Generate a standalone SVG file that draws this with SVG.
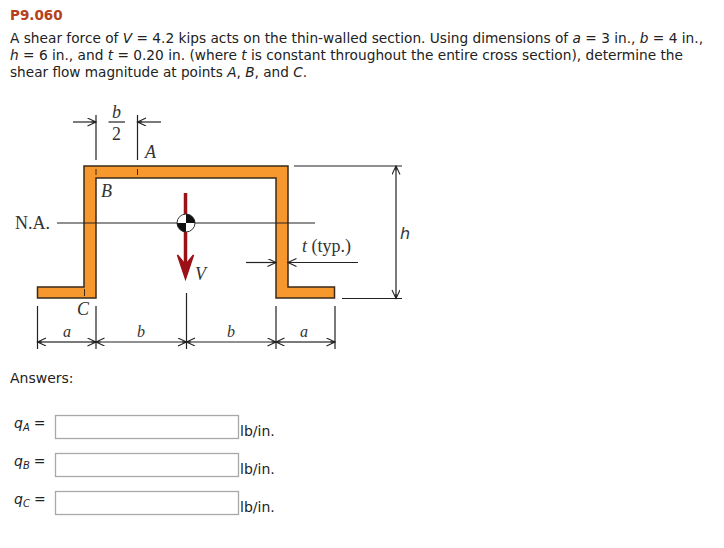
<svg xmlns="http://www.w3.org/2000/svg" width="724" height="548" viewBox="0 0 724 548">
<style>
.t{font-family:"DejaVu Sans",Verdana,sans-serif;font-size:14px;fill:#222}
.i{font-style:italic}
.s{font-family:"Liberation Serif","Times New Roman",serif;font-size:18px;fill:#333}
.l{stroke:#222;stroke-width:1.2;fill:none}
.d{stroke:#222;stroke-width:1.2;fill:none;marker-end:url(#a)}
.b{fill:#fff;stroke:#a8a8a8;stroke-width:1.3}
</style>
<defs><marker id="a" markerWidth="12" markerHeight="10" refX="9.5" refY="4" orient="auto" markerUnits="userSpaceOnUse"><path d="M1 0L9.5 4L1 8M5 4H9.5" fill="none" stroke="#222" stroke-width="1.1"/></marker></defs>
<rect width="724" height="548" fill="#fff"/>
<g id="statement">
<text x="10" y="20" class="t" style="font-weight:bold;fill:#b5401c;font-size:13.5px">P9.060</text>
<text x="10" y="43" class="t" textLength="693" lengthAdjust="spacingAndGlyphs">A shear force of <tspan class="i">V</tspan> = 4.2 kips acts on the thin-walled section. Using dimensions of <tspan class="i">a</tspan> = 3 in., <tspan class="i">b</tspan> = 4 in.,</text>
<text x="10" y="60" class="t" textLength="673" lengthAdjust="spacingAndGlyphs"><tspan class="i">h</tspan> = 6 in., and <tspan class="i">t</tspan> = 0.20 in. (where <tspan class="i">t</tspan> is constant throughout the entire cross section), determine the</text>
<text x="10" y="77" class="t" textLength="297" lengthAdjust="spacingAndGlyphs">shear flow magnitude at points <tspan class="i">A</tspan>, <tspan class="i">B</tspan>, and <tspan class="i">C</tspan>.</text>
</g>
<g id="section">
<path d="M84 166H288V287H334.500V298H276V178H96V298H37.500V287H84Z" fill="#f7982f" stroke="#3a2a1a" stroke-width="1.500"/>
<path d="M96 169V175M137.500 169V175M84.500 289V296" stroke="#3a2a1a" stroke-width="1" fill="none"/>
</g>
<g id="connectors">
<path class="l" d="M57 223H315M96 115V160M137.500 115V160M294 166H402M342 298.500H402M37.500 306V349M96 306V349M186.500 293V349M276 306V349M335 306V349"/>
<path class="d" d="M73 122H96"/>
<path class="d" d="M161 122H137.500"/>
<path class="d" d="M396 232V166"/>
<path class="d" d="M396 232V298.500"/>
<path class="d" d="M246 262.500H276"/>
<path class="d" d="M358 262.500H288"/>
<path class="d" d="M66 342H37.500"/>
<path class="d" d="M66 342H96"/>
<path class="d" d="M140 342H96"/>
<path class="d" d="M140 342H186.500"/>
<path class="d" d="M232 342H186.500"/>
<path class="d" d="M232 342H276"/>
<path class="d" d="M305 342H276"/>
<path class="d" d="M305 342H335"/>
<path d="M108.500 122H125" class="l"/>
</g>
<g id="load">
<path d="M185.500 193V268" stroke="#9c1018" stroke-width="3.500" fill="none"/>
<path d="M177.500 255L185.500 279L193.500 255L187 263H184Z" fill="#9c1018" stroke="#9c1018" stroke-width="1.500"/>
<circle cx="186" cy="223" r="9" fill="#fff" stroke="#333" stroke-width="1"/>
<path d="M186 223V214A9 9 0 0 1 195 223ZM186 223V232A9 9 0 0 1 177 223Z" fill="#111"/>
</g>
<g id="labels">
<text x="116.500" y="118" class="s" text-anchor="middle" font-style="italic">b</text>
<text x="116.500" y="140" class="s" text-anchor="middle">2</text>
<text x="145" y="158" class="s" font-style="italic">A</text>
<text x="101" y="197" class="s" font-style="italic">B</text>
<text x="15" y="229" class="s">N.A.</text>
<text x="302" y="252" class="s"><tspan font-style="italic">t</tspan> (typ.)</text>
<text x="400" y="239" style="font-family:'DejaVu Sans',sans-serif;font-size:16px;font-style:italic;fill:#333">h</text>
<text x="195" y="280" class="s" font-style="italic">V</text>
<text x="77" y="315" class="s" font-style="italic">C</text>
<text x="63" y="337" class="s" font-style="italic" style="font-size:16px">a</text>
<text x="137" y="337" class="s" font-style="italic" style="font-size:16px">b</text>
<text x="227" y="337" class="s" font-style="italic" style="font-size:16px">b</text>
<text x="300" y="337" class="s" font-style="italic" style="font-size:16px">a</text>
</g>
<g id="answers">
<text x="10" y="383" class="t">Answers:</text>
<g id="qa"><text x="14" y="428" class="t i">q<tspan font-size="10" dy="3">A</tspan><tspan dy="-3" font-style="normal" dx="4">=</tspan></text><rect class="b" x="55.500" y="415.500" width="183" height="23"/><text x="240" y="436" class="t">lb/in.</text></g>
<g id="qb"><text x="14" y="466" class="t i">q<tspan font-size="10" dy="3">B</tspan><tspan dy="-3" font-style="normal" dx="4">=</tspan></text><rect class="b" x="55.500" y="453.500" width="183" height="23"/><text x="240" y="474" class="t">lb/in.</text></g>
<g id="qc"><text x="14" y="504" class="t i">q<tspan font-size="10" dy="3">C</tspan><tspan dy="-3" font-style="normal" dx="4">=</tspan></text><rect class="b" x="55.500" y="491.500" width="183" height="23"/><text x="240" y="512" class="t">lb/in.</text></g>
</g>
</svg>
